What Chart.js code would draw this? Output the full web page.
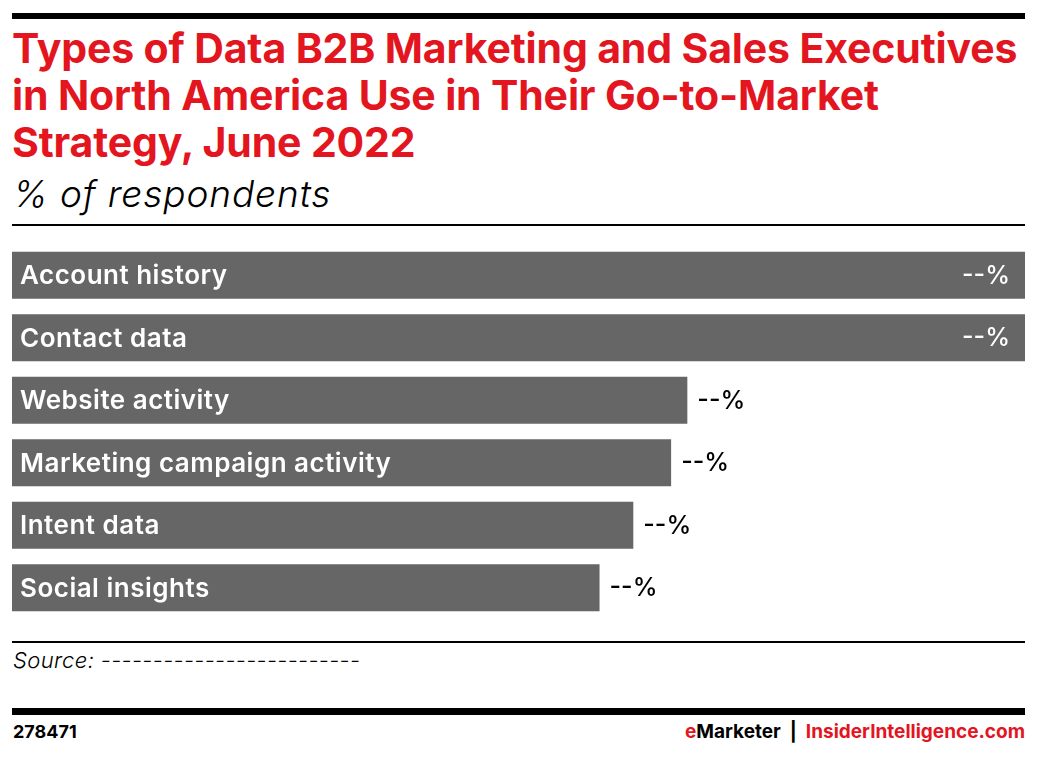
<!DOCTYPE html>
<html>
<head>
<meta charset="utf-8">
<script src="https://cdn.jsdelivr.net/npm/chart.js@4"></script>
<style>
  html, body { margin: 0; padding: 0; background: #fff; }
  body { width: 1038px; height: 757px; position: relative; overflow: hidden; font-family: "Inter", "Lato", sans-serif; }
  .rule { position: absolute; left: 12px; width: 1013px; background: #000; }
  #title { position: absolute; left: 12px; top: 25px; color: #e3151e; font-weight: 700; font-size: 41px; line-height: 47px; letter-spacing: -0.15px; white-space: nowrap; }
  #subtitle { position: absolute; left: 13px; top: 171px; font-style: italic; font-size: 37px; font-weight: 300; letter-spacing: 0.9px; color: #000; }
  #source { position: absolute; left: 13px; top: 647px; font-style: italic; font-size: 22px; font-weight: 300; letter-spacing: 0.4px; color: #000; }
  #chartId { position: absolute; left: 13px; top: 721px; font-size: 18px; font-weight: 700; color: #000; }
  #brand { position: absolute; right: 13px; top: 720px; font-size: 19px; font-weight: 700; color: #000; }
  #brand .red { color: #e3151e; }
  #wrap { position: absolute; left: 12px; top: 244px; width: 1013px; height: 375px; }
</style>
</head>
<body>
<div class="rule" style="top:13px;height:6px"></div>
<div id="title">Types of Data B2B Marketing and Sales Executives<br>in North America Use in Their Go-to-Market<br>Strategy, June 2022</div>
<div id="subtitle">% of respondents</div>
<div class="rule" style="top:224px;height:2px"></div>
<div id="wrap"><canvas id="chart"></canvas></div>
<div class="rule" style="top:641px;height:2px"></div>
<div id="source">Source: -------------------------</div>
<div class="rule" style="top:708px;height:7px"></div>
<div id="chartId">278471</div>
<div id="brand"><span class="red">e</span>Marketer &nbsp;|&nbsp; <span class="red">InsiderIntelligence.com</span></div>

<script>
const categories = ["Account history", "Contact data", "Website activity", "Marketing campaign activity", "Intent data", "Social insights"];
const values = [75, 75, 50, 48.8, 46, 43.5];
const valueLabels = ["--%", "--%", "--%", "--%", "--%", "--%"];
const axisMax = 75;

const barLabels = {
  id: "barLabels",
  afterDatasetsDraw(chart) {
    const ctx = chart.ctx;
    const meta = chart.getDatasetMeta(0);
    ctx.save();
    ctx.textBaseline = "middle";
    meta.data.forEach((bar, i) => {
      const y = bar.y + 1;
      ctx.font = "600 26px Inter, Lato, sans-serif";
      ctx.letterSpacing = "0.5px";
      ctx.fillStyle = "#fff";
      ctx.textAlign = "left";
      ctx.fillText(categories[i], bar.base + 8, y);
      ctx.letterSpacing = "0px";
      ctx.font = "500 25px Inter, Lato, sans-serif";
      const full = values[i] >= axisMax;
      if (full) {
        ctx.textAlign = "right";
        ctx.fillStyle = "#fff";
        ctx.fillText(valueLabels[i], bar.x - 15, y);
      } else {
        ctx.textAlign = "left";
        ctx.fillStyle = "#000";
        ctx.fillText(valueLabels[i], bar.x + 10, y);
      }
    });
    ctx.restore();
  }
};

new Chart(document.getElementById("chart"), {
  type: "bar",
  data: {
    labels: categories,
    datasets: [{
      data: values,
      backgroundColor: "#666666",
      borderWidth: 0,
      barPercentage: 0.752,
      categoryPercentage: 1
    }]
  },
  options: {
    indexAxis: "y",
    responsive: true,
    maintainAspectRatio: false,
    animation: false,
    layout: { padding: 0 },
    plugins: { legend: { display: false }, tooltip: { enabled: false } },
    scales: {
      x: { display: false, min: 0, max: axisMax },
      y: { display: false }
    }
  },
  plugins: [barLabels]
});
</script>
</body>
</html>
